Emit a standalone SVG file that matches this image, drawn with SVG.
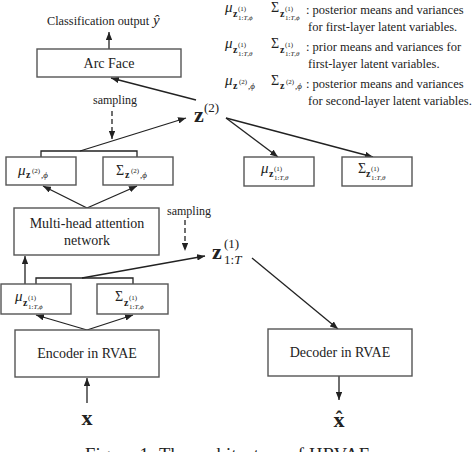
<svg xmlns="http://www.w3.org/2000/svg" width="474" height="452" viewBox="0 0 474 452">
<defs>
<marker id="ah" viewBox="0 0 10 8" refX="10" refY="4" markerWidth="8" markerHeight="6.4" markerUnits="userSpaceOnUse" orient="auto"><path d="M0,0 L10,4 L0,8 z" fill="#222"/></marker>
</defs>
<style>
text{font-family:"Liberation Serif","Times New Roman",serif;fill:#222}
.box{fill:#fff;stroke:#555;stroke-width:1.4}
.lbl{font-size:14px;text-anchor:middle}
.leg{font-size:12.5px}
.samp{font-size:12px;text-anchor:middle}
.c{fill:none;stroke:#222;stroke-width:1.3}
.arr{fill:none;stroke:#222;stroke-width:1.3;marker-end:url(#ah)}
.dash{stroke-dasharray:5,3}
.mu{font-style:italic;font-size:15px}
.sg{font-size:14px}
.bz{font-weight:bold;font-size:10px}
.sm{font-size:7px}
.sm2{font-size:9px}
.it{font-style:italic}
.big{font-weight:bold;font-size:22px}
.sup{font-size:13px}
</style>

<g id="legend">
  <text class="mu" x="225" y="12">μ</text><text class="bz" x="233" y="17">z</text><text class="sm" x="238" y="11">(1)</text><text class="sm" x="238" y="20">1:<tspan class="it">T</tspan>,<tspan class="it">ϕ</tspan></text>
  <text class="sg" x="271" y="12">Σ</text><text class="bz" x="280" y="17">z</text><text class="sm" x="285" y="11">(1)</text><text class="sm" x="285" y="20">1:<tspan class="it">T</tspan>,<tspan class="it">ϕ</tspan></text>
  <text class="leg" x="306" y="14">: posterior means and variances</text>
  <text class="leg" x="308" y="31">for first-layer latent variables.</text>

  <text class="mu" x="225" y="48">μ</text><text class="bz" x="233" y="53">z</text><text class="sm" x="238" y="47">(1)</text><text class="sm" x="238" y="56">1:<tspan class="it">T</tspan>,<tspan class="it">θ</tspan></text>
  <text class="sg" x="271" y="48">Σ</text><text class="bz" x="280" y="53">z</text><text class="sm" x="285" y="47">(1)</text><text class="sm" x="285" y="56">1:<tspan class="it">T</tspan>,<tspan class="it">θ</tspan></text>
  <text class="leg" x="306" y="51">: prior means and variances for</text>
  <text class="leg" x="308" y="68">first-layer latent variables.</text>

  <text class="mu" x="225" y="85">μ</text><text class="bz" x="233" y="89">z</text><text class="sm" x="239" y="84">(2)</text><text class="sm2" x="248" y="89">,<tspan class="it">ϕ</tspan></text>
  <text class="sg" x="271" y="85">Σ</text><text class="bz" x="280" y="89">z</text><text class="sm" x="286" y="84">(2)</text><text class="sm2" x="295" y="89">,<tspan class="it">ϕ</tspan></text>
  <text class="leg" x="306" y="88">: posterior means and variances</text>
  <text class="leg" x="308" y="105">for second-layer latent variables.</text>
</g>

<g id="connectors">
  <line class="arr" x1="109" y1="49" x2="109" y2="32"/>
  <line class="arr" x1="196" y1="100" x2="111" y2="78"/>
  <line class="arr dash" x1="112" y1="111" x2="112" y2="139"/>
  <polyline class="c" points="41,157 41,151 137,151 137,157"/>
  <line class="arr" x1="80" y1="151" x2="186" y2="118"/>
  <line class="arr" x1="226" y1="118" x2="278" y2="157"/>
  <line class="arr" x1="226" y1="118" x2="373" y2="157"/>
  <line class="arr" x1="87" y1="208" x2="43" y2="186"/>
  <line class="arr" x1="87" y1="208" x2="137" y2="186"/>
  <line class="arr dash" x1="185" y1="220" x2="185" y2="251"/>
  <polyline class="c" points="36,284 36,278 133,278 133,284"/>
  <line class="arr" x1="82" y1="278" x2="205" y2="256"/>
  <line class="arr" x1="25" y1="284" x2="25" y2="256"/>
  <line class="arr" x1="87" y1="330" x2="36" y2="315"/>
  <line class="arr" x1="87" y1="330" x2="133" y2="315"/>
  <line class="arr" x1="87" y1="403" x2="87" y2="378"/>
  <line class="arr" x1="252" y1="258" x2="338" y2="329"/>
  <line class="arr" x1="339" y1="376" x2="339" y2="400"/>
</g>

<g id="classification-output">
  <text x="47" y="25" style="font-size:12.3px">Classification output</text>
  <text x="153" y="25" class="it" style="font-size:15px">ŷ</text>
</g>

<g id="arc-face">
  <rect class="box" x="37" y="49" width="144" height="28"/>
  <text class="lbl" x="109" y="68">Arc Face</text>
</g>

<g id="sampling-1"><text class="samp" x="115" y="104">sampling</text></g>

<g id="z2">
  <text class="big" x="194" y="122">z</text><text class="sup" x="204" y="112">(2)</text>
</g>

<g id="mu-z2">
  <rect class="box" x="6" y="157" width="70" height="28"/>
  <text class="mu" x="18" y="175">μ</text><text class="bz" x="26" y="178">z</text><text class="sm" x="32" y="173">(2)</text><text class="sm2" x="41" y="178">,<tspan class="it">ϕ</tspan></text>
</g>

<g id="sigma-z2">
  <rect class="box" x="103" y="157" width="70" height="28"/>
  <text class="sg" x="116" y="175">Σ</text><text class="bz" x="125" y="178">z</text><text class="sm" x="131" y="173">(2)</text><text class="sm2" x="140" y="178">,<tspan class="it">ϕ</tspan></text>
</g>

<g id="mu-prior">
  <rect class="box" x="244" y="157" width="70" height="29"/>
  <text class="mu" x="261" y="173">μ</text><text class="bz" x="269" y="177">z</text><text class="sm" x="274" y="171">(1)</text><text class="sm" x="274" y="180">1:<tspan class="it">T</tspan>,<tspan class="it">θ</tspan></text>
</g>

<g id="sigma-prior">
  <rect class="box" x="342" y="157" width="70" height="29"/>
  <text class="sg" x="358" y="173">Σ</text><text class="bz" x="366" y="177">z</text><text class="sm" x="371" y="171">(1)</text><text class="sm" x="371" y="180">1:<tspan class="it">T</tspan>,<tspan class="it">θ</tspan></text>
</g>

<g id="mha">
  <rect class="box" x="14" y="208" width="145" height="47"/>
  <text class="lbl" x="87" y="228">Multi-head attention</text>
  <text class="lbl" x="87" y="245">network</text>
</g>

<g id="sampling-2"><text class="samp" x="189" y="215">sampling</text></g>

<g id="z1">
  <text class="big" x="212" y="259">z</text><text class="sup" x="224" y="248">(1)</text><text class="sup" x="224" y="264">1:<tspan class="it">T</tspan></text>
</g>

<g id="mu-z1">
  <rect class="box" x="1" y="284" width="70" height="30"/>
  <text class="mu" x="15" y="301">μ</text><text class="bz" x="23" y="306">z</text><text class="sm" x="28" y="300">(1)</text><text class="sm" x="28" y="309">1:<tspan class="it">T</tspan>,<tspan class="it">ϕ</tspan></text>
</g>

<g id="sigma-z1">
  <rect class="box" x="97" y="284" width="71" height="30"/>
  <text class="sg" x="115" y="301">Σ</text><text class="bz" x="124" y="306">z</text><text class="sm" x="129" y="300">(1)</text><text class="sm" x="129" y="309">1:<tspan class="it">T</tspan>,<tspan class="it">ϕ</tspan></text>
</g>

<g id="encoder">
  <rect class="box" x="15" y="330" width="144" height="47"/>
  <text class="lbl" x="87" y="358">Encoder in RVAE</text>
</g>

<g id="decoder">
  <rect class="box" x="268" y="329" width="144" height="47"/>
  <text class="lbl" x="340" y="357">Decoder in RVAE</text>
</g>

<g id="x-in"><text x="87" y="425" style="font-size:22px;font-weight:bold;text-anchor:middle">x</text></g>
<g id="x-out">
  <text x="339" y="427" style="font-size:22px;font-weight:bold;text-anchor:middle">x</text>
  <text x="339" y="426" style="font-size:20px;font-weight:bold;text-anchor:middle">ˆ</text>
</g>

<g id="caption"><text x="85" y="461" style="font-size:18.6px" textLength="285">Figure 1: The architecture of HRVAE</text></g>
</svg>
